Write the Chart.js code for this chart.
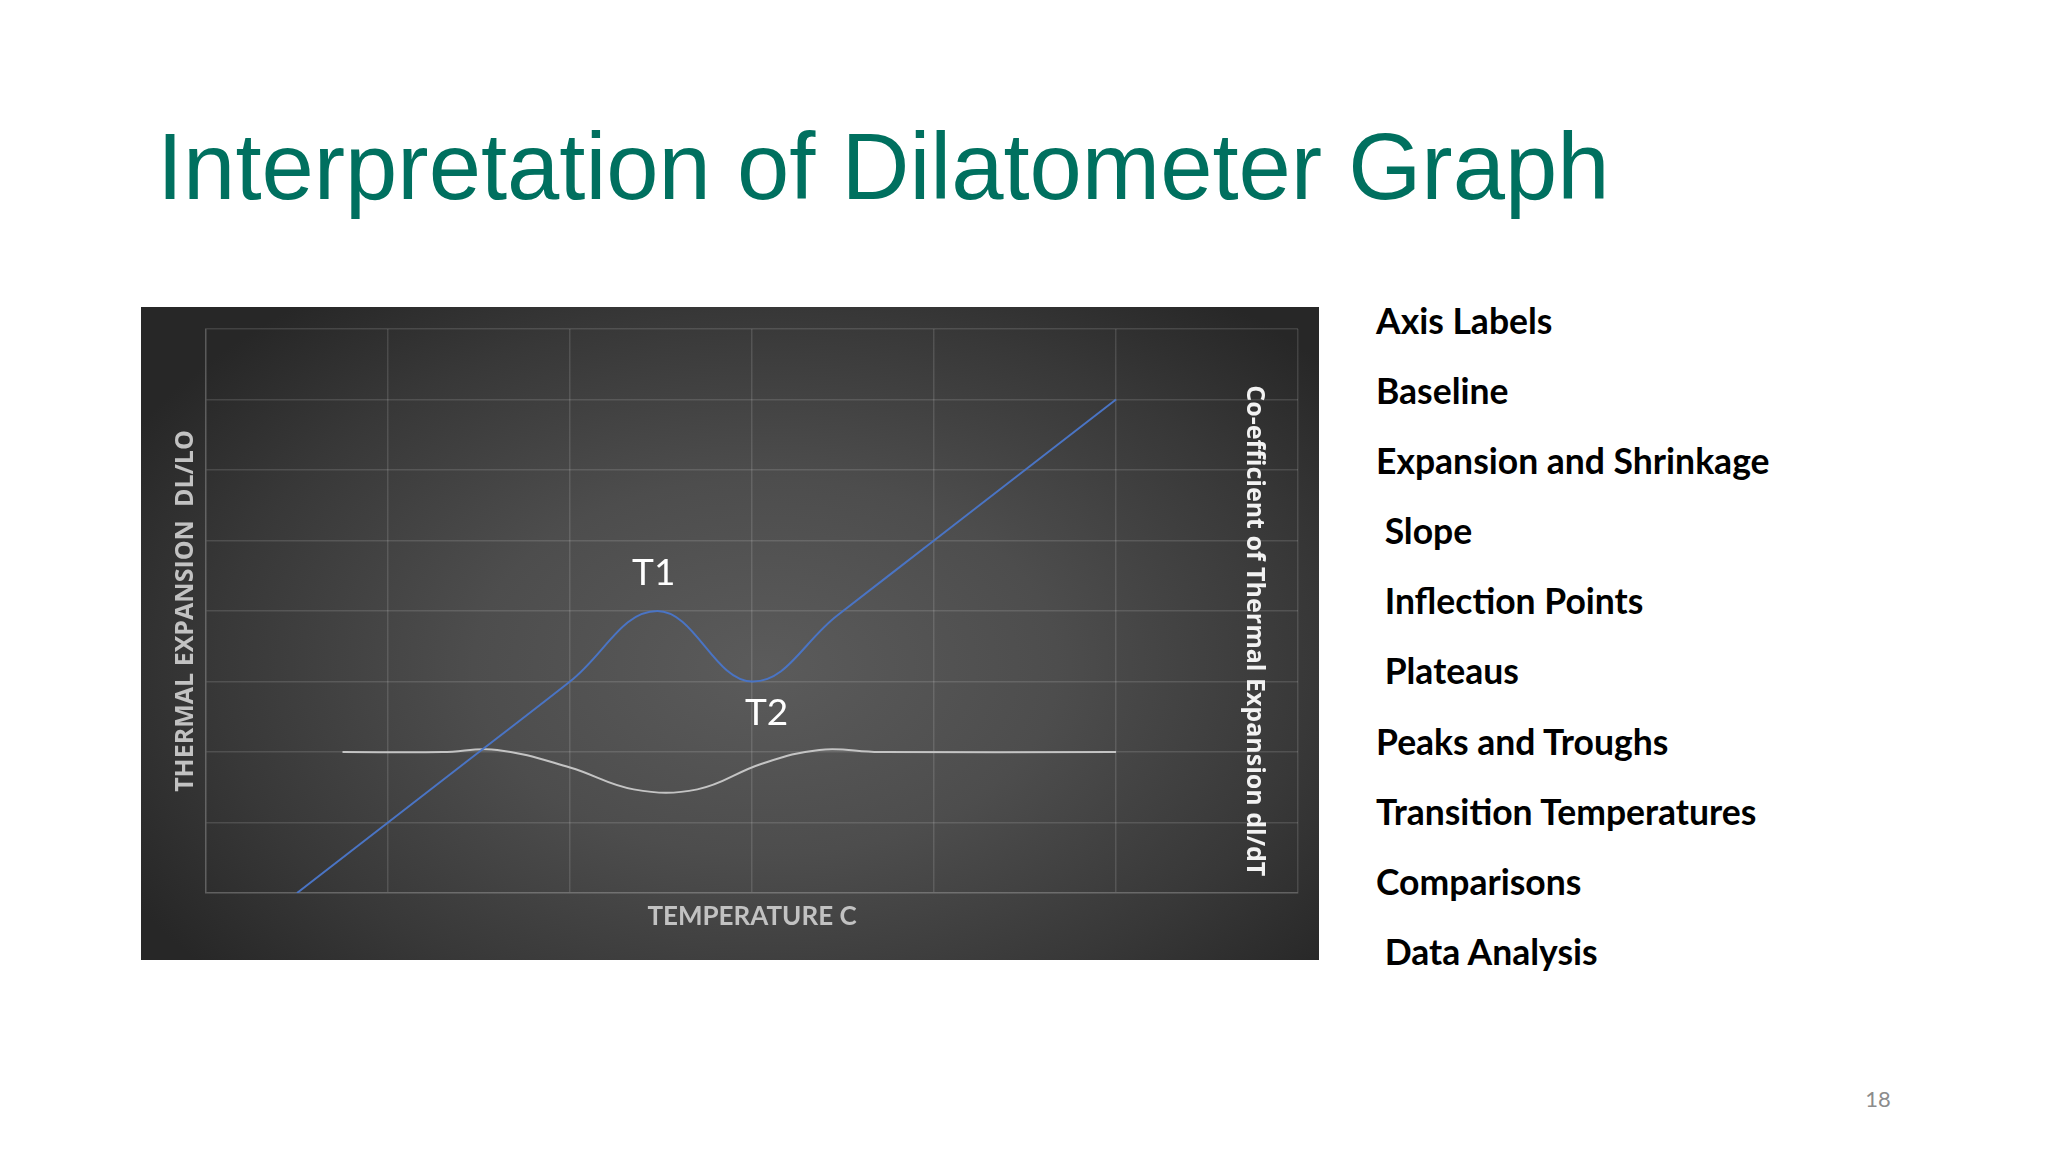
<!DOCTYPE html>
<html>
<head>
<meta charset="utf-8">
<script src="https://cdn.jsdelivr.net/npm/chart.js@4.4.1/dist/chart.umd.min.js"></script>
<style>
  html, body { margin: 0; padding: 0; background: #ffffff; }
  body { width: 2048px; height: 1152px; position: relative; overflow: hidden; }
  #title {
    position: absolute; left: 157px; top: 120px; margin: 0;
    font: 94px/94px "Liberation Sans", Arial, sans-serif; color: #00705f;
    white-space: nowrap; font-weight: normal;
  }
  #chartBox {
    position: absolute; left: 141px; top: 307px; width: 1178px; height: 653px;
    background: radial-gradient(ellipse 62% 72% at 53% 55%, #5b5b5b 0%, #4d4d4d 40%, #383838 75%, #272727 100%);
  }
  #points {
    position: absolute; left: 1376px; top: 286px; margin: 0; padding: 0; list-style: none;
    font: bold 35.5px/70.1px Lato, sans-serif; color: #000; white-space: pre;
  }
  #pageNo {
    position: absolute; left: 1848px; top: 1088px; width: 60px; text-align: center;
    font: 22px/22px Lato, sans-serif; color: #8c8c8c;
  }
</style>
</head>
<body>
<h1 id="title">Interpretation of Dilatometer Graph</h1>
<div id="chartBox"><canvas id="dilatometer"></canvas></div>
<ul id="points"></ul>
<div id="pageNo">18</div>

<script>
// dilatometer curve (dL/Lo), grid units
const temperature = [0.5, 1.5, 2.0, 2.48, 3.0, 3.47, 4.0, 5.0];
const expansion = [0, 2, 3, 4, 3, 3.94, 5, 7];

// derivative curve (dl/dT)
const coefTemperature = [0.75, 1.3, 1.6, 2.0, 2.35, 2.7, 3.05, 3.37, 3.7, 5.0];
const coefficient = [2, 2, 2.03, 1.78, 1.47, 1.47, 1.83, 2.03, 2, 2];

// transition markers
const markerNames = ['T1', 'T2'];
const markerX = [2.46, 3.08];
const markerY = [4.54, 2.55];

const talkingPoints = ['Axis Labels', 'Baseline', 'Expansion and Shrinkage', ' Slope',
    ' Inflection Points', ' Plateaus', 'Peaks and Troughs', 'Transition Temperatures',
    'Comparisons', ' Data Analysis'];

const list = document.getElementById('points');
talkingPoints.forEach(function (t) {
    const li = document.createElement('li');
    li.textContent = t;
    list.appendChild(li);
});

const gridColor = 'rgba(255, 255, 255, 0.13)';

// T1 / T2 labels and the right-hand axis title, which sits inside the plot
const labelPlugin = {
    id: 'labelPlugin',
    afterDatasetsDraw(chart) {
        const ctx = chart.ctx;
        const x = chart.scales.x, y = chart.scales.y;
        ctx.save();
        ctx.fillStyle = '#ffffff';
        ctx.font = '37px Lato';
        ctx.textAlign = 'center';
        ctx.textBaseline = 'middle';
        markerNames.forEach(function (name, i) {
            ctx.fillText(name, x.getPixelForValue(markerX[i]), y.getPixelForValue(markerY[i]));
        });

        ctx.fillStyle = '#f2f2f2';
        ctx.font = 'bold 25px "Open Sans"';
        ctx.translate(x.getPixelForValue(5.76), y.getPixelForValue(3.72));
        ctx.rotate(Math.PI / 2);
        ctx.fillText('Co-efficient of Thermal Expansion dl/dT', 0, 0);
        ctx.restore();
    }
};

const ctx = document.getElementById('dilatometer').getContext('2d');
new Chart(ctx, {
    type: 'line',
    data: {
        datasets: [{
            label: 'Thermal expansion',
            data: temperature.map((t, i) => ({ x: t, y: expansion[i] })),
            borderColor: '#4a74c4',
            borderWidth: 2,
            pointRadius: 0,
            tension: 0.4
        }, {
            label: 'Co-efficient of thermal expansion',
            data: coefTemperature.map((t, i) => ({ x: t, y: coefficient[i] })),
            borderColor: '#c4c4c4',
            borderWidth: 2,
            pointRadius: 0,
            tension: 0.4
        }]
    },
    options: {
        responsive: true,
        maintainAspectRatio: false,
        animation: false,
        layout: { padding: { top: 22, right: 21, left: 0, bottom: 0 } },
        plugins: { legend: { display: false }, tooltip: { enabled: false } },
        scales: {
            x: {
                type: 'linear',
                min: 0,
                max: 6,
                ticks: { display: false, stepSize: 1 },
                grid: { color: gridColor, lineWidth: 1.5, drawTicks: false },
                border: { color: gridColor, width: 1.5 },
                title: {
                    display: true,
                    text: 'TEMPERATURE C',
                    color: '#c2c2c2',
                    font: { family: 'Lato', size: 26, weight: 'bold' },
                    padding: { top: 7.6, bottom: 28.2 }
                }
            },
            y: {
                min: 0,
                max: 8,
                ticks: { display: false, stepSize: 1 },
                grid: { color: gridColor, lineWidth: 1.5, drawTicks: false },
                border: { color: gridColor, width: 1.5 },
                title: {
                    display: true,
                    text: 'THERMAL EXPANSION  DL/LO',
                    color: '#c2c2c2',
                    font: { family: 'Open Sans', size: 25, weight: 'bold' },
                    padding: { top: 29.5, bottom: 5.5 }
                }
            }
        }
    },
    plugins: [labelPlugin]
});
</script>
</body>
</html>
